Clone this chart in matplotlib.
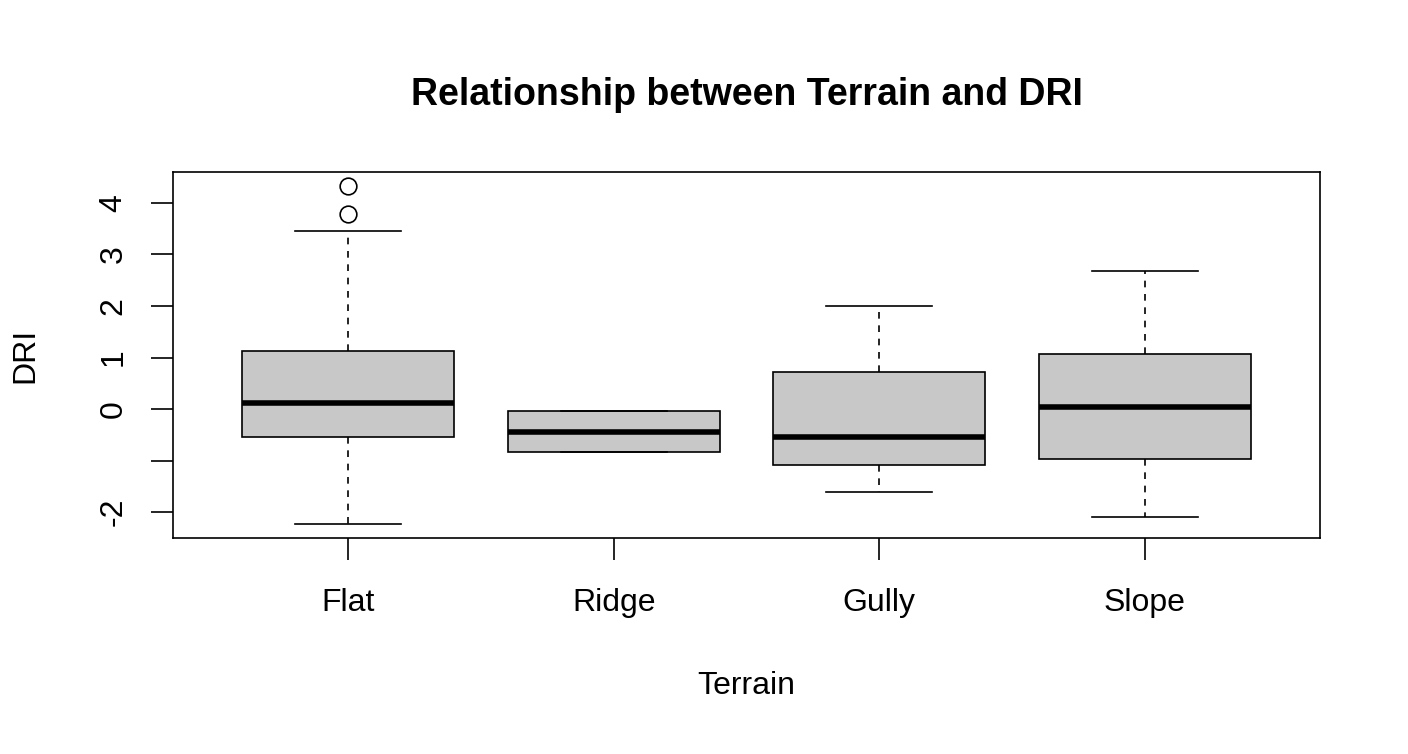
import matplotlib.pyplot as plt

plt.rcParams['font.family'] = ['Liberation Sans', 'DejaVu Sans']

terrain = ['Flat', 'Ridge', 'Gully', 'Slope']
whislo = [-2.23, -0.83, -1.61, -2.10]
q1 = [-0.54, -0.83, -1.09, -0.97]
med = [0.12, -0.45, -0.54, 0.04]
q3 = [1.13, -0.04, 0.72, 1.07]
whishi = [3.46, -0.04, 2.00, 2.68]
fliers = [[4.33, 3.79], [], [], []]

stats = []
for i in range(len(terrain)):
    stats.append(dict(whislo=whislo[i], q1=q1[i], med=med[i], q3=q3[i],
                      whishi=whishi[i], fliers=fliers[i], label=terrain[i]))

fig = plt.figure(figsize=(14.08, 7.54), dpi=100)
ax = fig.add_axes([0.1229, 0.2865, 0.8146, 0.4854])

ax.bxp(stats, positions=[1, 2, 3, 4], widths=0.8, patch_artist=True,
       boxprops=dict(facecolor='#c8c8c8', edgecolor='black', linewidth=1.2),
       medianprops=dict(color='black', linewidth=4, solid_capstyle='butt'),
       whiskerprops=dict(color='black', linewidth=1.2, linestyle=(0, (4, 4))),
       capprops=dict(color='black', linewidth=1.2),
       flierprops=dict(marker='o', markerfacecolor='none', markeredgecolor='black',
                       markersize=12, markeredgewidth=1.2))

ax.set_xlim(0.34, 4.66)
ax.set_ylim(-2.5, 4.6)
ax.set_yticks([-2, -1, 0, 1, 2, 3, 4])
ax.set_yticklabels(['-2', '', '0', '1', '2', '3', '4'], rotation=90, va='center')
ax.set_xticks([1, 2, 3, 4])
ax.set_xticklabels(terrain)
ax.tick_params(axis='both', labelsize=23, length=16, width=1.2, direction='out')
ax.tick_params(axis='x', pad=20)
ax.tick_params(axis='y', pad=16)
for s in ax.spines.values():
    s.set_linewidth(1.2)

ax.set_xlabel('Terrain', fontsize=23, labelpad=38)
ax.set_ylabel('DRI', fontsize=23, labelpad=42)
ax.set_title('Relationship between Terrain and DRI', fontsize=27, fontweight='bold', pad=48)

fig.savefig('out.png', dpi=100)
